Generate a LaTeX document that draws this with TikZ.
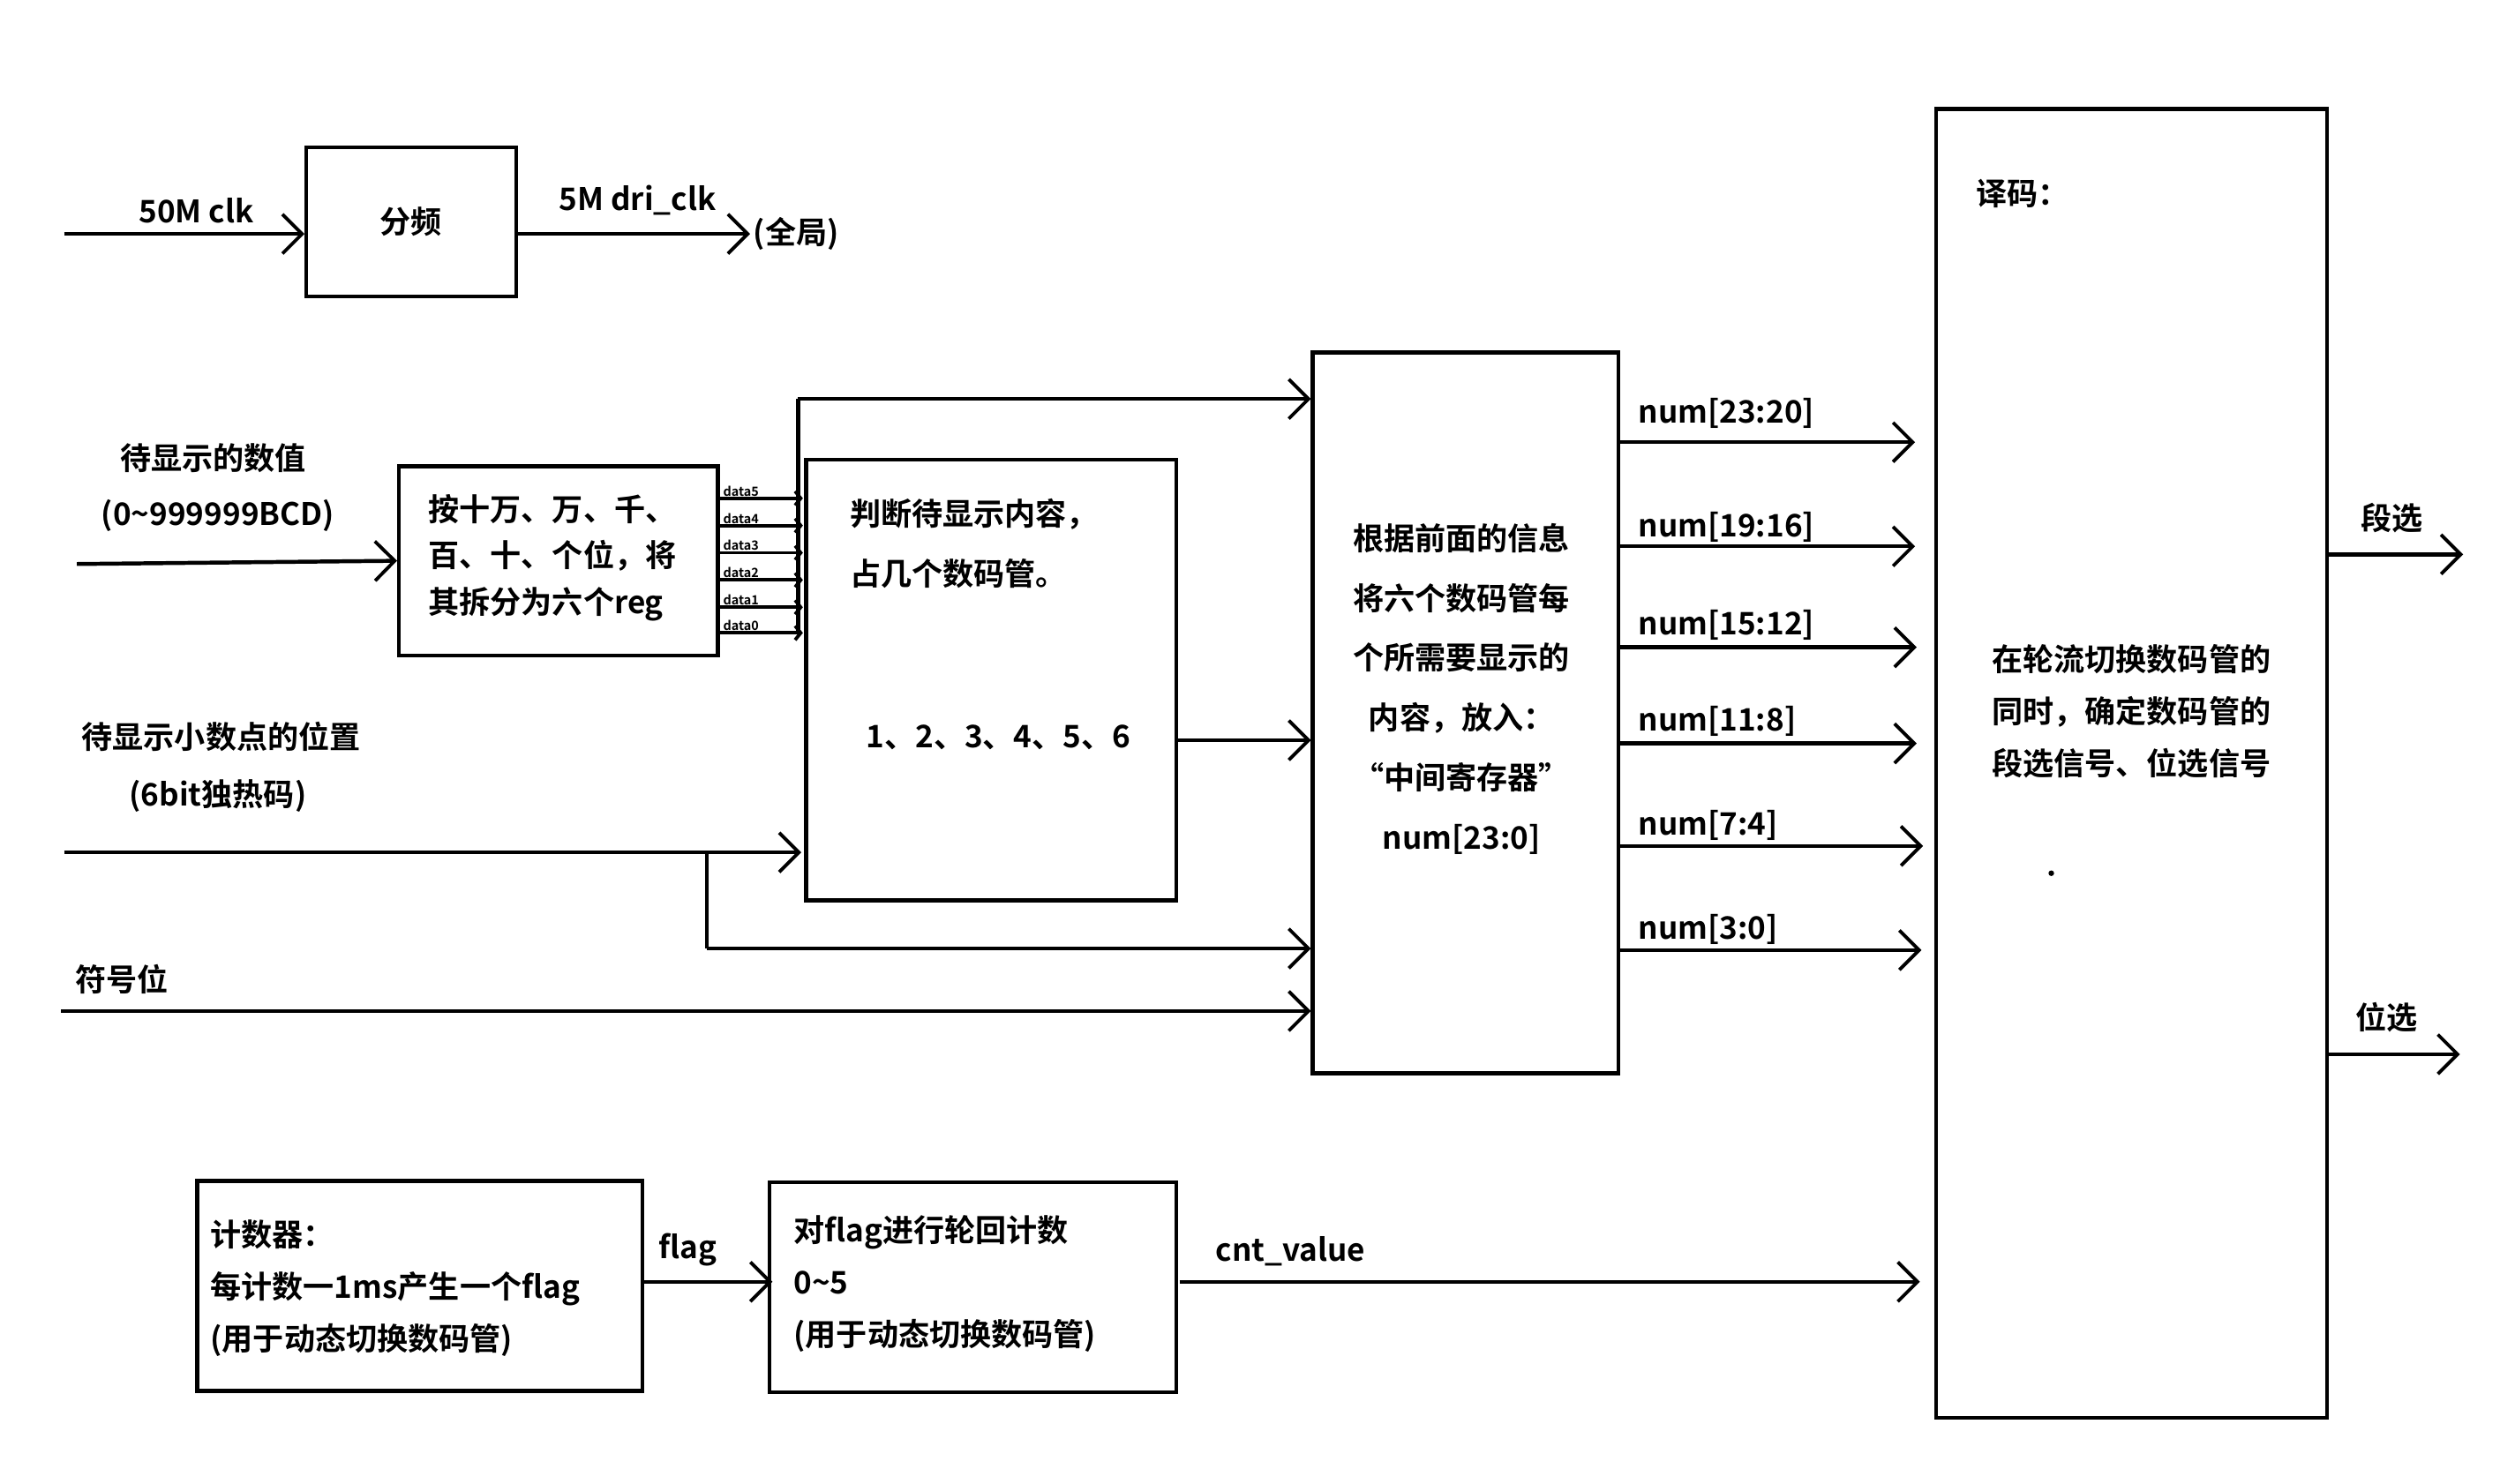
\documentclass[tikz,border=0pt]{standalone}
\usepackage{fontspec}
\setmainfont{Noto Sans CJK SC Bold}
\usetikzlibrary{arrows.meta,positioning}
\tikzset{
  blk/.style={draw,line width=1.4pt,inner sep=0pt},
  sig/.style={line width=1.4pt,-{Straight Barb[length=7pt,width=14pt,line width=1.2pt]}},
  small/.style={-{Straight Barb[length=2pt,width=5pt]},line width=1.2pt},
  txt/.style={font=\fontsize{11}{13}\selectfont,inner sep=0pt},
  tiny/.style={font=\fontsize{4.5}{5}\selectfont,inner sep=0pt,anchor=south west}
}
\begin{document}
\begin{tikzpicture}[x=0.02cm,y=-0.02cm]
\useasboundingbox (0,0) rectangle (1560,926);
%clock
\node[blk,minimum width=2.62cm,minimum height=1.86cm] (div) at (256.5,138.5) {};
\node[txt] at (div) {分频};
\coordinate (clkIn) at (40,146);
\draw[sig] (clkIn)--(190,146) node[txt,above,pos=0.55,yshift=3pt]{50M clk};
\coordinate (clkOut) at (468,146);
\draw[sig] (322,146)--(clkOut) node[txt,above,pos=0.52,yshift=6pt]{5M dri\_clk};
\node[txt,right=1pt of clkOut] (glob) {(全局)};
%split
\node[txt] (numL1) at (133,286) {待显示的数值};
\node[txt] (numL2) at (136,322) {(0\textasciitilde999999BCD)};
\node[blk,minimum width=3.98cm,minimum height=2.36cm] (split) at (348.5,350) {};
\node[txt,align=left,anchor=west,font=\fontsize{11}{16.5}\selectfont] at (267,348) {按十万、万、千、\\百、十、个位，将\\其拆分为六个reg};
\draw[sig] (48,352)--(split.west);
\foreach \i/\y in {5/311,4/328,3/345,2/362,1/379,0/395}{
  \draw[small] (448,\y)--(501,\y);
  \node[tiny] at (451,\y-1) {data\i};
}
%judge
\node[blk,minimum width=4.62cm,minimum height=5.5cm] (judge) at (618.5,424.5) {};
\node[txt,anchor=west] at (530,321) {判断待显示内容，};
\node[txt,anchor=west] at (530,358) {占几个数码管。};
\node[txt] (cnt) at (623,460) {1、2、3、4、5、6};
%middle
\node[blk,minimum width=3.82cm,minimum height=9cm] (mid) at (914.5,445) {};
\node[txt,align=center,font=\fontsize{11}{21.3}\selectfont] at (912,430) {根据前面的信息\\将六个数码管每\\个所需要显示的\\内容，放入：\\“中间寄存器”\\num[23:0]};
\draw[line width=1.4pt] (498,395)--(498,249);
\draw[sig] (498,249)--(818,249);
\draw[sig] (734,462)--(818,462);
%dot and sign
\node[txt] at (138,460) {待显示小数点的位置};
\node[txt] at (136,497) {(6bit独热码)};
\draw[sig] (40,532)--(500,532);
\draw[line width=1.4pt] (441,532)--(441,592);
\draw[sig] (441,592)--(818,592);
\node[txt] at (76,611) {符号位};
\draw[sig] (38,631)--(818,631);
%decoder
\node[blk,minimum width=4.88cm,minimum height=16.34cm] (dec) at (1330,476.5) {};
\node[txt] at (1262,121) {译码：};
\node[txt,align=left,font=\fontsize{11}{18.5}\selectfont] at (1330,444) {在轮流切换数码管的\\同时，确定数码管的\\段选信号、位选信号};
\fill (1280,545) circle (1pt);
\foreach \lab/\y/\e/\ly in {{num[23:20]}/276/1195/258,{num[19:16]}/341/1195/329,{num[15:12]}/404/1196/390,{num[11:8]}/464/1196/450,{num[7:4]}/528/1200/515,{num[3:0]}/593/1199/580}{
  \draw[sig] (1010,\y)--(\e,\y);
  \node[txt,anchor=west] at (1022,\ly) {\lab};
}
\draw[sig] (1452,346)--(1537,346) node[txt,above,pos=0.48,yshift=7pt]{段选};
\draw[sig] (1452,658)--(1535,658) node[txt,above,pos=0.45,yshift=7pt]{位选};
%counter
\node[blk,minimum width=5.56cm,minimum height=2.62cm] (ms) at (262,802.5) {};
\node[txt,align=left,anchor=west,font=\fontsize{11}{18.5}\selectfont] at (131,804) {计数器：\\每计数一1ms产生一个flag\\(用于动态切换数码管)};
\node[blk,minimum width=5.08cm,minimum height=2.62cm] (loop) at (607,803.5) {};
\node[txt,align=left,anchor=west,font=\fontsize{11}{18.5}\selectfont] at (495,801) {对flag进行轮回计数\\0\textasciitilde5\\(用于动态切换数码管)};
\draw[sig] (401,800)--(482,800) node[txt,above,pos=0.35,yshift=5pt]{flag};
\draw[sig] (736,800)--(1198,800) node[txt,above,pos=0.15,yshift=5pt]{cnt\_value};
\end{tikzpicture}
\end{document}
